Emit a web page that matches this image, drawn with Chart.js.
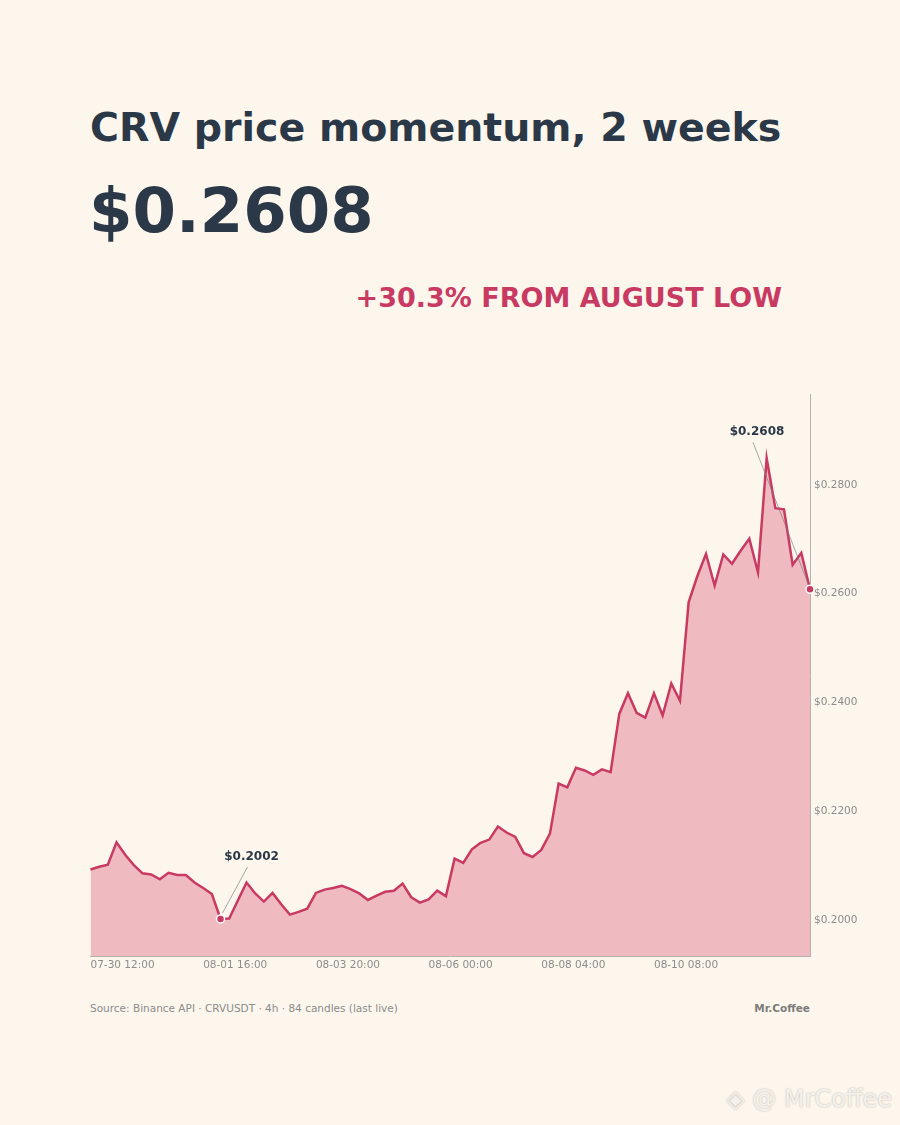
<!DOCTYPE html>
<html>
<head>
<meta charset="utf-8">
<script src="https://cdn.jsdelivr.net/npm/chart.js@4.4.1/dist/chart.umd.min.js"></script>
<style>
  html, body { margin: 0; padding: 0; }
  body {
    width: 900px; height: 1125px; background: #fdf6ec; position: relative; overflow: hidden;
    font-family: "DejaVu Sans", sans-serif;
  }
  .title { position: absolute; left: 90px; top: 104px; font-size: 39.5px; font-weight: bold; color: #2b3848; white-space: nowrap; }
  .price { position: absolute; left: 89px; top: 174px; font-size: 62.5px; font-weight: bold; color: #2b3848; }
  .change { position: absolute; right: 118px; top: 282px; font-size: 27px; font-weight: bold; color: #c93a62; white-space: nowrap; }
  .chartbox { position: absolute; left: 85px; top: 380px; width: 795px; height: 610px; }
  .source { position: absolute; left: 90px; top: 1002px; font-size: 10.5px; color: #8c8c8c; }
  .brand { position: absolute; right: 90px; top: 1002px; font-size: 10.5px; font-weight: bold; color: #7c7c7c; }
  .wm { position: absolute; right: 8px; top: 1085px; font-size: 24px; color: #f4f1ec; text-shadow: 0 0 2px #b8b4ae; }
</style>
</head>
<body>
<div class="title">CRV price momentum, 2 weeks</div>
<div class="price">$0.2608</div>
<div class="change">+30.3% FROM AUGUST LOW</div>
<div class="chartbox"><canvas id="chart"></canvas></div>
<div class="source">Source: Binance API · CRVUSDT · 4h · 84 candles (last live)</div>
<div class="brand">Mr.Coffee</div>
<div class="wm">&#9672; @ MrCoffee</div>

<script>
// 4h closes, 07-30 12:00 onward (84 candles)
const closes = [
  0.2093, 0.2098, 0.2102, 0.2143, 0.2120, 0.2101, 0.2086, 0.2084, 0.2075, 0.2087,
  0.2083, 0.2083, 0.2069, 0.2059, 0.2048, 0.2002, 0.2003, 0.2036, 0.2069, 0.2049,
  0.2034, 0.2050, 0.2029, 0.2010, 0.2015, 0.2021, 0.2050, 0.2056, 0.2059, 0.2063,
  0.2057, 0.2049, 0.2037, 0.2045, 0.2052, 0.2054, 0.2067, 0.2042, 0.2032, 0.2038,
  0.2054, 0.2044, 0.2113, 0.2105, 0.2130, 0.2142, 0.2148, 0.2172, 0.2161, 0.2153,
  0.2123, 0.2116, 0.2129, 0.2159, 0.2251, 0.2244, 0.2280, 0.2275, 0.2267, 0.2277,
  0.2272, 0.2379, 0.2417, 0.2381, 0.2372, 0.2417, 0.2376, 0.2435, 0.2403, 0.2584,
  0.2632, 0.2673, 0.2615, 0.2672, 0.2655, 0.2679, 0.2701, 0.2639, 0.2849, 0.2757,
  0.2755, 0.2653, 0.2675, 0.2608
];

const tickLabels = ["07-30 12:00", "08-01 16:00", "08-03 20:00", "08-06 00:00", "08-08 04:00", "08-10 08:00"];
const tickEvery = 13;
const yTicks = [0.20, 0.22, 0.24, 0.26, 0.28];
const lowIndex = 15;
const lastIndex = closes.length - 1;

const categories = closes.map((_, i) => i);

const red = "#c93a62";
const ink = "#2b3848";

const callouts = {
  id: "callouts",
  afterDatasetsDraw(chart) {
    const ctx = chart.ctx;
    const pts = chart.getDatasetMeta(0).data;
    const draw = (idx, text, dx, dy, x0, y0) => {
      const p = pts[idx];
      ctx.save();
      ctx.strokeStyle = "rgba(120,120,120,0.8)";
      ctx.lineWidth = 0.8;
      ctx.beginPath();
      ctx.moveTo(p.x + x0, p.y + y0);
      ctx.lineTo(p.x + dx - 4, p.y + dy + 10);
      ctx.stroke();
      ctx.fillStyle = ink;
      ctx.font = "bold 12px 'DejaVu Sans'";
      ctx.textAlign = "center";
      ctx.textBaseline = "middle";
      ctx.fillText(text, p.x + dx, p.y + dy);
      ctx.restore();
    };
    draw(lowIndex, "$" + closes[lowIndex].toFixed(4), 31, -62, 2, -6);
    draw(lastIndex, "$" + closes[lastIndex].toFixed(4), -53, -157, -2, -6);
  }
};

new Chart(document.getElementById("chart").getContext("2d"), {
  type: "line",
  data: {
    labels: categories,
    datasets: [{
      data: closes,
      borderColor: red,
      borderWidth: 2.5,
      backgroundColor: "#efbbc0",
      fill: "origin",
      tension: 0,
      clip: 8,
      pointRadius: (c) => (c.dataIndex === lowIndex || c.dataIndex === lastIndex) ? 4 : 0,
      pointBackgroundColor: red,
      pointBorderColor: "#ffffff",
      pointBorderWidth: 1.5,
      pointHoverRadius: 0
    }]
  },
  options: {
    responsive: true,
    maintainAspectRatio: false,
    animation: false,
    layout: { padding: { top: 14, left: 0, right: 0, bottom: 0 } },
    plugins: { legend: { display: false }, tooltip: { enabled: false } },
    scales: {
      x: {
        type: "category",
        offset: false,
        grid: { display: false, drawTicks: false },
        border: { display: true, color: "#b5b2ad", width: 1 },
        ticks: {
          autoSkip: false,
          maxRotation: 0,
          align: "start",
          padding: 3,
          color: "#8c8c8c",
          font: { family: "DejaVu Sans", size: 10.5 },
          callback: (v, i) => (i % tickEvery === 0 && i / tickEvery < tickLabels.length) ? tickLabels[i / tickEvery] : ""
        },
        afterFit: (s) => { s.height = 34; }
      },
      y: {
        position: "right",
        min: 0.1934,
        max: 0.2967,
        grid: { display: false, drawTicks: false },
        border: { display: true, color: "#b5b2ad", width: 1 },
        afterBuildTicks: (s) => { s.ticks = yTicks.map((v) => ({ value: v })); },
        ticks: {
          padding: 4,
          color: "#8c8c8c",
          font: { family: "DejaVu Sans", size: 10.5 },
          callback: (v) => "$" + Number(v).toFixed(4)
        },
        afterFit: (s) => { s.width = 70; }
      }
    }
  },
  plugins: [callouts]
});
</script>
</body>
</html>
